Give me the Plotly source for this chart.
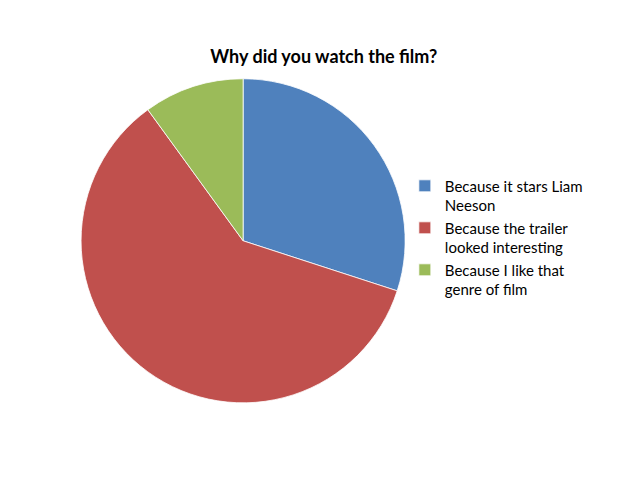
import plotly.graph_objects as go

reasons = [
    "Because it stars Liam<br>Neeson",
    "Because the trailer<br>looked interesting",
    "Because I like that<br>genre of film",
]
counts = [3, 6, 1]
colours = ["#4F81BD", "#C0504D", "#9BBB59"]

layout = {
    "width": 638,
    "height": 478,
    "margin": {"l": 0, "r": 0, "t": 0, "b": 0},
    "paper_bgcolor": "#ffffff",
    "font": {"family": "Lato, Open Sans, sans-serif", "color": "#000000", "size": 15},
    "title": {
        "text": "<b>Why did you watch the film?</b>",
        "font": {"size": 18},
        "x": 0.495, "xanchor": "center",
        "y": 0.899, "yanchor": "middle",
    },
    "showlegend": True,
    "legend": {
        "x": 0.622, "xanchor": "left",
        "y": 0.662, "yanchor": "top",
        "valign": "top",
        "itemwidth": 30,
        "font": {"size": 15},
    },
}

fig = go.Figure(layout=layout)
fig.add_pie(
    labels=reasons,
    values=counts,
    marker={"colors": colours, "line": {"color": "#ffffff", "width": 0.8}},
    sort=False,
    direction="clockwise",
    rotation=0,
    textinfo="none",
    hoverinfo="label+percent",
    domain={"x": [0.1145, 0.6225], "y": [0.174, 0.852]},
)
fig.write_html("out.html")
